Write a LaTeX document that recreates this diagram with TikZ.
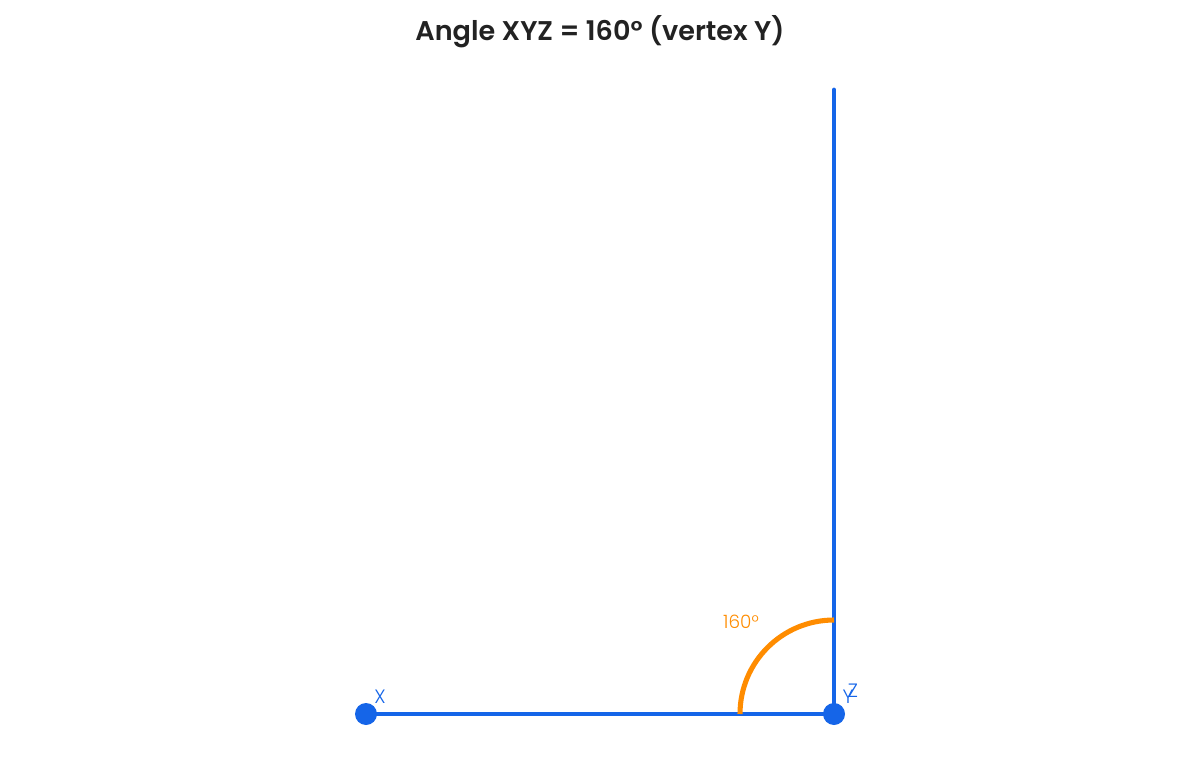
\documentclass[tikz,border=0pt]{standalone}
\usepackage{fontspec}
\setmainfont{Poppins}
\newfontfamily\titlefont{Poppins SemiBold}
\newfontfamily\lightfont{Poppins Light}
\definecolor{lineblue}{HTML}{1565E8}
\definecolor{arcorange}{HTML}{FF8C00}
\definecolor{titlegray}{HTML}{222222}
\begin{document}
\begin{tikzpicture}[x=0.75pt,y=-0.75pt,
  seg/.style={draw=lineblue,line width=3.6pt,line cap=round},
  dot/.style={circle,fill=lineblue,inner sep=0pt,minimum size=16.5pt},
  ptlabel/.style={text=lineblue,font=\lightfont\fontsize{14.5}{14.5}\selectfont,inner sep=0pt,anchor=base},
  arclabel/.style={text=arcorange,font=\lightfont\fontsize{13.8}{13.8}\selectfont,inner sep=0pt,anchor=base}]
\useasboundingbox (0,0) rectangle (1200,763);
\node[font=\titlefont\fontsize{20.3}{20.3}\selectfont,text=titlegray,anchor=base] (title) at (600,41) {Angle XYZ = 160° (vertex Y)};
\coordinate (X) at (366,714);
\coordinate (Y) at (834,714);
\coordinate (Z) at (834,90);
\draw[seg] (X) -- (Y);
\draw[seg] (Y) -- (Z);
\draw[draw=arcorange,line width=3.8pt] ([xshift=-94*0.75pt]Y) arc[start angle=180,end angle=90,radius=94*0.75pt];
\node[dot] (Xdot) at (X) {};
\node[dot] (Ydot) at (Y) {};
\node[ptlabel] (Xl) at (380,703) {X};
\node[ptlabel] (Yl) at (848,703) {Y};
\node[ptlabel] (Zl) at (853,697) {Z};
\node[arclabel] (al) at (741,628) {160°};
\end{tikzpicture}
\end{document}
